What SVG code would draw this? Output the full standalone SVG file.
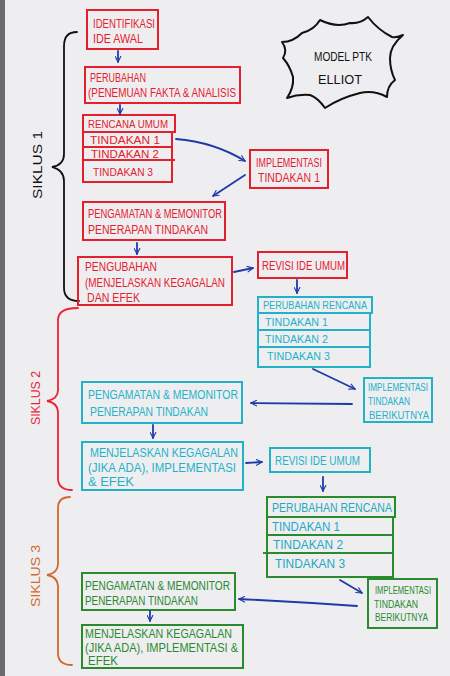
<svg xmlns="http://www.w3.org/2000/svg" width="450" height="676" viewBox="0 0 450 676">
<defs>
<marker id="ah" viewBox="0 0 10 10" refX="9" refY="5" markerWidth="7" markerHeight="7" orient="auto" markerUnits="userSpaceOnUse">
<path d="M1,1 L9,5 L1,9" fill="none" stroke="#1f3aa8" stroke-width="1.6" stroke-linecap="round" stroke-linejoin="round"/>
</marker>
<style>
text{font-family:"Liberation Sans",Arial,sans-serif;font-size:12px;}
.r rect,.r path{fill:none;stroke:#e5202e;stroke-width:2;}
.r text{fill:#e5202e;}
.c rect,.c path{fill:none;stroke:#22b2c8;stroke-width:2;}
.c text{fill:#22b2c8;}
.g rect,.g path{fill:none;stroke:#2a8a2e;stroke-width:2;}
.g text{fill:#2a8a2e;}
.g text.t{fill:#22a8c0;}
.conn path{fill:none;stroke:#1f3aa8;stroke-width:1.8;marker-end:url(#ah);stroke-linecap:round;}
.brace{fill:none;stroke-width:1.8;stroke-linecap:round;}
.sik{font-size:13px;}
.big{font-size:13px;}
.sm{font-size:11px;}
.xs{font-size:10px;}
</style>
</defs>
<rect width="450" height="676" fill="#eeeef1"/>
<rect width="5" height="676" fill="#6a6a70"/>

<!-- braces and labels -->
<g id="siklus1">
<path class="brace" stroke="#111" d="M77,32 Q64,32 64,46 L64,154 Q64,165 52,167 Q64,170 64,181 L64,288 Q64,301 79,301"/>
<text class="sik" fill="#111" transform="translate(42,165) rotate(-90)" text-anchor="middle" textLength="68" lengthAdjust="spacingAndGlyphs">SIKLUS 1</text>
</g>
<g id="siklus2">
<path class="brace" stroke="#ee2233" d="M78,308 Q58,308 58,320 L58,390 Q58,399 47,401 Q58,403 58,412 L58,478 Q58,490 72,490"/>
<text class="sik" fill="#ee2233" transform="translate(40,398) rotate(-90)" text-anchor="middle" textLength="54" lengthAdjust="spacingAndGlyphs">SIKLUS 2</text>
</g>
<g id="siklus3">
<path class="brace" stroke="#d2692a" d="M70,497 Q58,497 58,508 L58,564 Q58,573 47,575 Q58,577 58,586 L58,653 Q58,665 72,665"/>
<text class="sik" fill="#d2692a" transform="translate(40,576) rotate(-90)" text-anchor="middle" textLength="62" lengthAdjust="spacingAndGlyphs">SIKLUS 3</text>
</g>

<!-- title burst -->
<g id="title">
<path fill="none" stroke="#111" stroke-width="2" stroke-linejoin="round" d="M282,42 Q293,42 302,33 Q314,30 320,20 Q336,28 350,23 Q360,24 368,17 Q378,30 392,37 Q397,38 403,35 Q390,46 390,58 Q390,70 395,80 Q387,86 387,97 Q374,90 360,93 Q340,98 325,108 Q318,98 310,95 Q298,94 287,98 Q294,88 293,77 Q290,66 283,58 Q288,50 282,42 Z"/>
<text x="343" y="61" text-anchor="middle" fill="#111" font-size="15" textLength="58" lengthAdjust="spacingAndGlyphs">MODEL PTK</text>
<text x="340" y="84" text-anchor="middle" fill="#111" font-size="15" textLength="44" lengthAdjust="spacingAndGlyphs">ELLIOT</text>
</g>

<!-- Siklus 1 nodes -->
<g id="n1" class="r">
<rect x="87" y="10" width="71" height="39"/>
<text class="big" x="93" y="28" textLength="62" lengthAdjust="spacingAndGlyphs">IDENTIFIKASI</text>
<text class="big" x="93" y="43" textLength="50" lengthAdjust="spacingAndGlyphs">IDE AWAL</text>
</g>
<g id="n2" class="r">
<rect x="85" y="67" width="155" height="36"/>
<text x="90" y="82" textLength="56" lengthAdjust="spacingAndGlyphs">PERUBAHAN</text>
<text x="88" y="97" textLength="148" lengthAdjust="spacingAndGlyphs">(PENEMUAN FAKTA &amp; ANALISIS</text>
</g>
<g id="n3" class="r">
<rect x="83" y="115" width="92" height="17"/>
<path d="M83,132 L83,182 L172,182 L172,132 M83,147 L172,147 M83,160 L175,160"/>
<text class="sm" x="88" y="128" textLength="80" lengthAdjust="spacingAndGlyphs">RENCANA UMUM</text>
<text class="sm" x="90" y="144" textLength="70" lengthAdjust="spacingAndGlyphs">TINDAKAN 1</text>
<text class="sm" x="91" y="158" textLength="68" lengthAdjust="spacingAndGlyphs">TINDAKAN 2</text>
<text class="sm" x="93" y="176" textLength="60" lengthAdjust="spacingAndGlyphs">TINDAKAN 3</text>
</g>
<g id="n4" class="r">
<rect x="250" y="150" width="78" height="38"/>
<text x="256" y="167" textLength="66" lengthAdjust="spacingAndGlyphs">IMPLEMENTASI</text>
<text x="258" y="182" textLength="62" lengthAdjust="spacingAndGlyphs">TINDAKAN 1</text>
</g>
<g id="n5" class="r">
<rect x="83" y="202" width="142" height="38"/>
<text x="88" y="218" textLength="134" lengthAdjust="spacingAndGlyphs">PENGAMATAN &amp; MEMONITOR</text>
<text x="88" y="234" textLength="120" lengthAdjust="spacingAndGlyphs">PENERAPAN TINDAKAN</text>
</g>
<g id="n6" class="r">
<rect x="78" y="257" width="154" height="48"/>
<text x="85" y="271" textLength="72" lengthAdjust="spacingAndGlyphs">PENGUBAHAN</text>
<text x="85" y="287" textLength="140" lengthAdjust="spacingAndGlyphs">(MENJELASKAN KEGAGALAN</text>
<text x="87" y="302" textLength="53" lengthAdjust="spacingAndGlyphs">DAN EFEK</text>
</g>
<g id="n7" class="r">
<rect x="258" y="252" width="89" height="26"/>
<text x="262" y="270" textLength="83" lengthAdjust="spacingAndGlyphs">REVISI IDE UMUM</text>
</g>

<!-- Siklus 2 nodes -->
<g id="n8" class="c">
<rect x="258" y="297" width="114" height="16"/>
<path d="M258,313 L258,367 L370,367 L370,313 M258,330 L370,330 M258,347 L370,347"/>
<text class="sm" x="263" y="309" textLength="104" lengthAdjust="spacingAndGlyphs">PERUBAHAN RENCANA</text>
<text class="sm" x="265" y="326" textLength="63" lengthAdjust="spacingAndGlyphs">TINDAKAN 1</text>
<text class="sm" x="265" y="343" textLength="63" lengthAdjust="spacingAndGlyphs">TINDAKAN 2</text>
<text class="sm" x="267" y="360" textLength="63" lengthAdjust="spacingAndGlyphs">TINDAKAN 3</text>
</g>
<g id="n9" class="c">
<rect x="364" y="378" width="68" height="44"/>
<text class="sm" x="368" y="391" textLength="60" lengthAdjust="spacingAndGlyphs">IMPLEMENTASI</text>
<text class="sm" x="368" y="405" textLength="42" lengthAdjust="spacingAndGlyphs">TINDAKAN</text>
<text class="sm" x="369" y="419" textLength="60" lengthAdjust="spacingAndGlyphs">BERIKUTNYA</text>
</g>
<g id="n10" class="c">
<rect x="82" y="382" width="160" height="41"/>
<text x="88" y="399" textLength="150" lengthAdjust="spacingAndGlyphs">PENGAMATAN &amp; MEMONITOR</text>
<text x="90" y="416" textLength="118" lengthAdjust="spacingAndGlyphs">PENERAPAN TINDAKAN</text>
</g>
<g id="n11" class="c">
<rect x="82" y="442" width="161" height="48"/>
<text x="90" y="457" textLength="148" lengthAdjust="spacingAndGlyphs">MENJELASKAN KEGAGALAN</text>
<text x="88" y="472" textLength="148" lengthAdjust="spacingAndGlyphs">(JIKA ADA), IMPLEMENTASI</text>
<text x="88" y="486" textLength="46" lengthAdjust="spacingAndGlyphs">&amp; EFEK</text>
</g>
<g id="n12" class="c">
<rect x="270" y="448" width="100" height="24"/>
<text x="275" y="465" textLength="85" lengthAdjust="spacingAndGlyphs">REVISI IDE UMUM</text>
</g>

<!-- Siklus 3 nodes -->
<g id="n13" class="g">
<rect x="267" y="497" width="128" height="20"/>
<path d="M267,517 L267,577 L393,577 L393,517 M267,535 L393,535 M263,553 L393,553"/>
<text class="t" x="272" y="512" textLength="120" lengthAdjust="spacingAndGlyphs">PERUBAHAN RENCANA</text>
<text class="t" x="272" y="531" textLength="68" lengthAdjust="spacingAndGlyphs">TINDAKAN 1</text>
<text class="t" x="273" y="549" textLength="70" lengthAdjust="spacingAndGlyphs">TINDAKAN 2</text>
<text class="t" x="275" y="568" textLength="70" lengthAdjust="spacingAndGlyphs">TINDAKAN 3</text>
</g>
<g id="n14" class="g">
<rect x="368" y="579" width="69" height="49"/>
<text class="xs" x="375" y="594" textLength="56" lengthAdjust="spacingAndGlyphs">IMPLEMENTASI</text>
<text class="sm" x="374" y="608" textLength="44" lengthAdjust="spacingAndGlyphs">TINDAKAN</text>
<text class="sm" x="375" y="621" textLength="53" lengthAdjust="spacingAndGlyphs">BERIKUTNYA</text>
</g>
<g id="n15" class="g">
<rect x="82" y="573" width="153" height="37"/>
<text x="85" y="590" textLength="145" lengthAdjust="spacingAndGlyphs">PENGAMATAN &amp; MEMONITOR</text>
<text x="85" y="605" textLength="113" lengthAdjust="spacingAndGlyphs">PENERAPAN TINDAKAN</text>
</g>
<g id="n16" class="g">
<rect x="82" y="625" width="161" height="43"/>
<text x="85" y="638" textLength="147" lengthAdjust="spacingAndGlyphs">MENJELASKAN KEGAGALAN</text>
<text x="85" y="652" textLength="153" lengthAdjust="spacingAndGlyphs">(JIKA ADA), IMPLEMENTASI &amp;</text>
<text x="88" y="665" textLength="30" lengthAdjust="spacingAndGlyphs">EFEK</text>
</g>

<!-- connectors -->
<g id="connectors" class="conn">
<path d="M118,51 L118,62"/>
<path d="M120,105 L120,114"/>
<path d="M176,139 Q214,142 245,161"/>
<path d="M245,175 L213,196"/>
<path d="M137,243 L137,254"/>
<path d="M234,272 L253,268"/>
<path d="M297,280 L297,293"/>
<path d="M313,369 L355,389"/>
<path d="M352,404 L251,403"/>
<path d="M153,425 L153,438"/>
<path d="M246,463 L262,462"/>
<path d="M323,477 L323,491"/>
<path d="M340,580 L362,593"/>
<path d="M357,606 Q300,602 239,599"/>
<path d="M150,611 L150,621"/>
</g>
</svg>
